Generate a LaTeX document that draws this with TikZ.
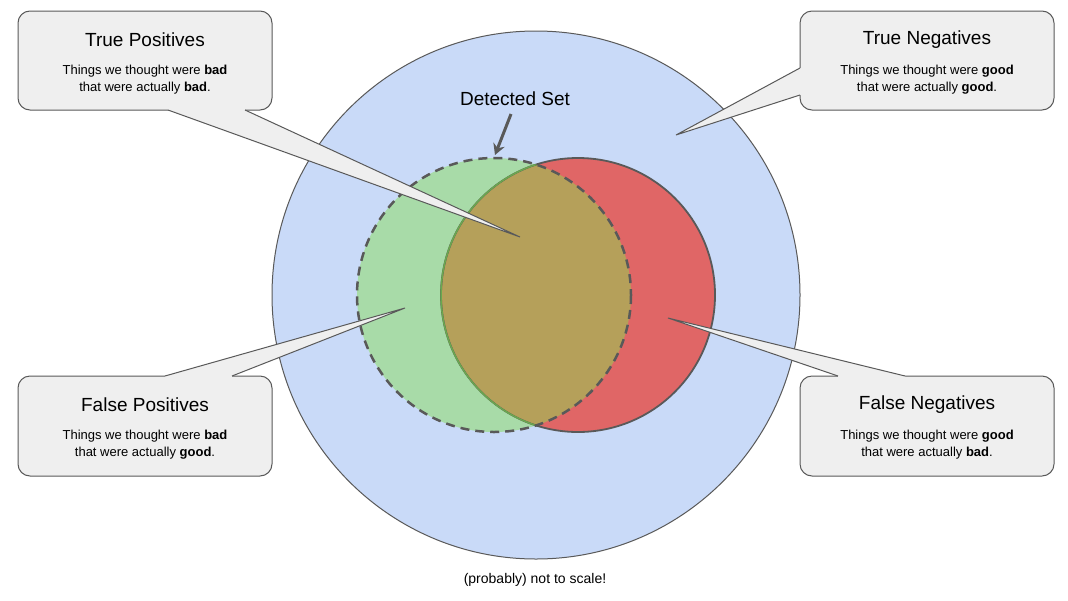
\documentclass[tikz,border=0pt]{standalone}
\usepackage{fontspec}
\setmainfont{Liberation Sans}
\usetikzlibrary{arrows.meta}
\definecolor{bl}{HTML}{C9DAF8}
\definecolor{gr}{HTML}{A8DBA8}
\definecolor{rd}{HTML}{E06666}
\definecolor{ol}{HTML}{B5A05A}
\definecolor{bx}{HTML}{EFEFEF}
\definecolor{ln}{HTML}{595959}
\definecolor{gl}{HTML}{6AA84F}
\tikzset{box/.style={fill=bx,draw=ln,line width=1pt,rounded corners=12pt},
 ttl/.style={font=\fontsize{19}{22}\selectfont,text=black},
 bdy/.style={font=\fontsize{13}{17}\selectfont,align=center,text=black}}
\begin{document}
\begin{tikzpicture}[x=1pt,y=-1pt]
\useasboundingbox (0,0) rectangle (1068,600);
\fill[white] (0,0) rectangle (1068,600);
\node[circle,minimum size=528pt,fill=bl,draw=ln,line width=1pt] (big) at (536,295) {};
\path (494,295) coordinate (gc) (578,295) coordinate (rc);
\fill[gr] (gc) circle (137);
\fill[rd] (rc) circle (137);
\begin{scope}\clip (gc) circle (137); \fill[ol] (rc) circle (137); \end{scope}
\draw[ln,line width=1.8pt] (rc) circle (137);
\begin{scope}\clip (gc) circle (137); \draw[gl,line width=1.5pt] (rc) circle (137); \end{scope}
\draw[ln,line width=2.5pt,dash pattern=on 9pt off 6pt] (gc) circle (137);
% boxes
\draw[box] (18,11) rectangle (272,110);
\draw[box] (800,11) rectangle (1054,110);
\draw[box] (18,376) rectangle (272,476);
\draw[box] (800,376) rectangle (1054,476);
\coordinate (tp) at (520,237); \coordinate (tn) at (676,135);
\coordinate (fp) at (405,308); \coordinate (fn) at (668,318);
\fill[bx] (168,107)--(168,110)--(tp)--(245,110)--(245,107)--cycle;
\draw[ln,line width=1pt] (168,110)--(tp)--(245,110);
\fill[bx] (803,68)--(800,68)--(tn)--(800,95)--(803,95)--cycle;
\draw[ln,line width=1pt] (800,68)--(tn)--(800,95);
\fill[bx] (165,379)--(165,376)--(fp)--(232,376)--(232,379)--cycle;
\draw[ln,line width=1pt] (165,376)--(fp)--(232,376);
\fill[bx] (838,379)--(838,376)--(fn)--(905,376)--(905,379)--cycle;
\draw[ln,line width=1pt] (838,376)--(fn)--(905,376);
% texts
\node[ttl] (t1) at (145,40) {True Positives};
\node[bdy] (b1) at (145,80) {Things we thought were \textbf{bad}\\that were actually \textbf{bad}.};
\node[ttl] (t2) at (927,40) {True Negatives};
\node[bdy] (b2) at (927,80) {Things we thought were \textbf{good}\\that were actually \textbf{good}.};
\node[ttl] (t3) at (145,405) {False Positives};
\node[bdy] (b3) at (145,445) {Things we thought were \textbf{bad}\\that were actually \textbf{good}.};
\node[ttl] (t4) at (927,405) {False Negatives};
\node[bdy] (b4) at (927,445) {Things we thought were \textbf{good}\\that were actually \textbf{bad}.};
\node[ttl] (ds) at (515,99) {Detected Set};
\coordinate (da) at (511,114); \coordinate (db) at (495,155);
\draw[ln,line width=3pt,-{Stealth[length=11pt,width=12pt]}] (da)--(db);
\node[font=\fontsize{14}{16}\selectfont] (ns) at (535,580) {(probably) not to scale!};
\end{tikzpicture}
\end{document}
